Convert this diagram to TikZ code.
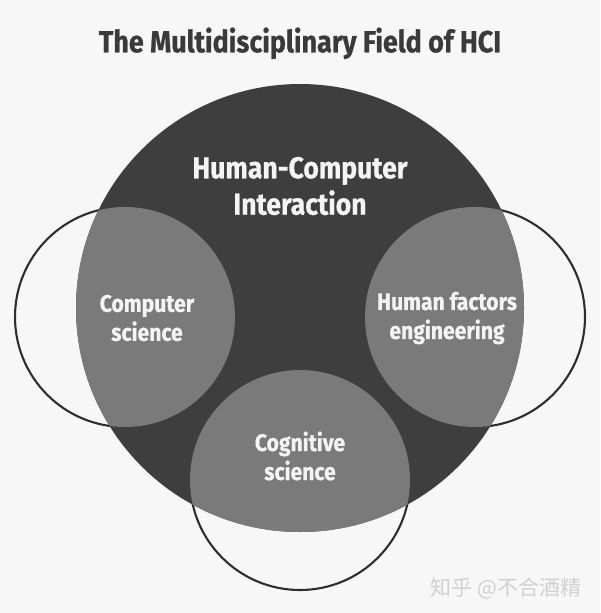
\documentclass[tikz,border=0pt]{standalone}
\usepackage{fontspec}
\setmainfont{Fira Sans}[BoldFont={Fira Sans Bold}, BoldFeatures={FakeBold=0.6}, FakeStretch=0.88]
\newfontfamily\cjkfont{Noto Sans CJK SC}
\definecolor{bgc}{HTML}{F7F7F7}
\definecolor{darkc}{HTML}{3E3E3E}
\definecolor{grayc}{HTML}{7A7A7A}
\definecolor{linec}{HTML}{2E2E2E}
\definecolor{txtc}{HTML}{F4F4F4}
\definecolor{titlec}{HTML}{3A3A3A}
\definecolor{wmc}{HTML}{D0D0D0}
\begin{document}
\begin{tikzpicture}[x=1pt,y=-1pt,
  lbl/.style={text=txtc, font=\bfseries\fontsize{24}{29}\selectfont, align=center, inner sep=0pt},
  biglbl/.style={text=txtc, font=\bfseries\fontsize{30.2}{36.4}\selectfont, align=center, inner sep=0pt},
  ring/.style={draw=linec, line width=2.1pt}]
\useasboundingbox (0,0) rectangle (600,613);
\fill[bgc] (0,0) rectangle (600,613);
% main circle
\fill[darkc] (300,308) circle[radius=224];
% intersections
\begin{scope}
  \clip (300,308) circle[radius=224];
  \fill[grayc] (125,317) circle[radius=110];
  \fill[grayc] (475,317) circle[radius=110];
  \fill[grayc] (300,480) circle[radius=110];
\end{scope}
% outlines outside the main circle
\begin{scope}[even odd rule]
  \clip (0,0) rectangle (600,613) (300,308) circle[radius=224];
  \draw[ring] (125,317) circle[radius=110];
  \draw[ring] (475,317) circle[radius=110];
  \draw[ring] (300,480) circle[radius=110];
\end{scope}
\node[anchor=base, text=titlec, font=\bfseries\fontsize{30.6}{36}\selectfont, inner sep=0pt] (title) at (300,52.3) {The Multidisciplinary Field of HCI};
\node[biglbl] (hci) at (300,186) {Human-Computer\\Interaction};
\node[lbl] (cs) at (147,318) {Computer\\science};
\node[lbl] (hfe) at (447,318) {Human factors\\engineering};
\node[lbl] (cog) at (300,456) {Cognitive\\science};
\node[text=wmc, font=\cjkfont\fontsize{21}{24}\selectfont, inner sep=0pt] (wm) at (506,588) {知乎 @不合酒精};
\end{tikzpicture}
\end{document}
